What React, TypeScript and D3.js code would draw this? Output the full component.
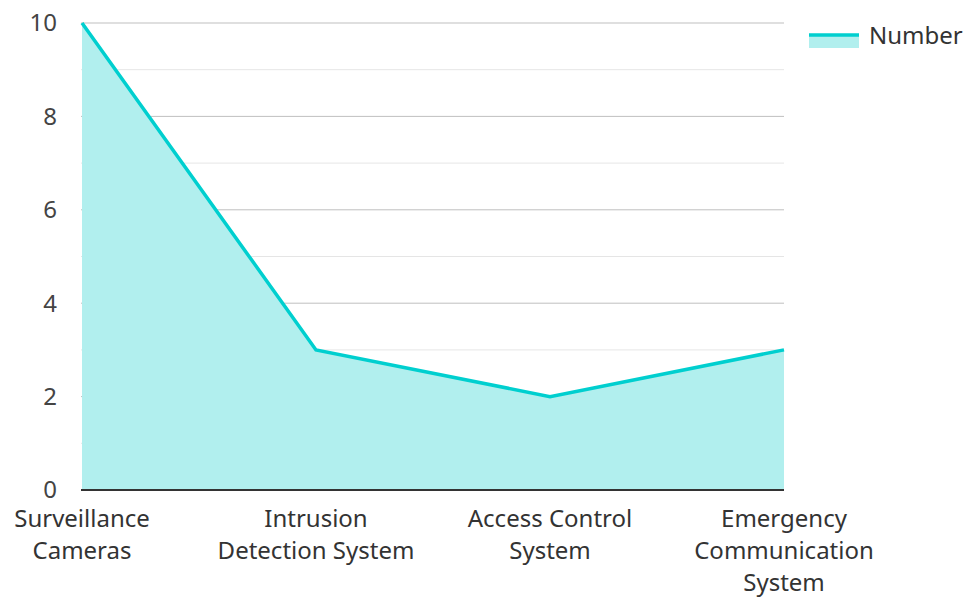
import React, { useEffect, useRef } from 'react';
import * as d3 from 'd3';

const categories = [
  'Surveillance Cameras',
  'Intrusion Detection System',
  'Access Control System',
  'Emergency Communication System',
];
const categoryLines = [
  ['Surveillance', 'Cameras'],
  ['Intrusion', 'Detection System'],
  ['Access Control', 'System'],
  ['Emergency', 'Communication', 'System'],
];
const numberValues = [10, 3, 2, 3];
const seriesName = 'Number';
const yMajorTicks = [0, 2, 4, 6, 8, 10];
const yMinorTicks = [1, 3, 5, 7, 9];

const width = 970;
const height = 597;
const lineColor = '#00cfcf';
const fillColor = '#b1efee';
const font = '"Noto Sans", sans-serif';
const fontSize = 24;

const App: React.FC = () => {
  const ref = useRef<SVGSVGElement | null>(null);

  useEffect(() => {
    if (!ref.current) return;
    const svg = d3.select(ref.current);
    svg.selectAll('*').remove();

    const margin = { top: 23, right: 186, bottom: 107, left: 82 };
    const innerWidth = width - margin.left - margin.right;
    const innerHeight = height - margin.top - margin.bottom;

    const x = d3
      .scalePoint<string>()
      .domain(categories)
      .range([0, innerWidth]);

    const y = d3.scaleLinear().domain([0, 10]).range([innerHeight, 0]);

    const g = svg
      .append('g')
      .attr('transform', `translate(${margin.left},${margin.top})`);

    // minor grid
    g.selectAll('line.minor')
      .data(yMinorTicks)
      .enter()
      .append('line')
      .attr('class', 'minor')
      .attr('x1', -1)
      .attr('x2', innerWidth)
      .attr('y1', d => y(d))
      .attr('y2', d => y(d))
      .attr('stroke', '#000')
      .attr('stroke-opacity', 0.1)
      .attr('stroke-width', 1);

    // major grid
    g.selectAll('line.major')
      .data(yMajorTicks.filter(d => d !== 0))
      .enter()
      .append('line')
      .attr('class', 'major')
      .attr('x1', -1)
      .attr('x2', innerWidth)
      .attr('y1', d => y(d))
      .attr('y2', d => y(d))
      .attr('stroke', '#000')
      .attr('stroke-opacity', 0.25)
      .attr('stroke-width', 1);

    const area = d3
      .area<number>()
      .x((_, i) => x(categories[i]) as number)
      .y0(y(0))
      .y1(d => y(d));

    const line = d3
      .line<number>()
      .x((_, i) => x(categories[i]) as number)
      .y(d => y(d));

    g.append('path')
      .datum(numberValues)
      .attr('fill', fillColor)
      .attr('d', area);

    g.append('path')
      .datum(numberValues)
      .attr('fill', 'none')
      .attr('stroke', lineColor)
      .attr('stroke-width', 3.5)
      .attr('stroke-linejoin', 'miter')
      .attr('d', line);

    // x axis line
    g.append('line')
      .attr('x1', -1)
      .attr('x2', innerWidth)
      .attr('y1', innerHeight)
      .attr('y2', innerHeight)
      .attr('stroke', '#333')
      .attr('stroke-width', 2);

    // y labels
    g.selectAll('text.ylab')
      .data(yMajorTicks)
      .enter()
      .append('text')
      .attr('class', 'ylab')
      .attr('x', -25)
      .attr('y', d => y(d))
      .attr('dy', '0.35em')
      .attr('text-anchor', 'end')
      .attr('font-family', font)
      .attr('font-size', fontSize)
      .attr('fill', '#444')
      .text(d => d);

    // x labels
    const xl = g
      .selectAll('text.xlab')
      .data(categories)
      .enter()
      .append('text')
      .attr('class', 'xlab')
      .attr('x', d => x(d) as number)
      .attr('y', innerHeight + 37)
      .attr('text-anchor', 'middle')
      .attr('font-family', font)
      .attr('font-size', fontSize)
      .attr('fill', '#333');
    xl.each(function (_, i) {
      const t = d3.select(this);
      categoryLines[i].forEach((s, j) => {
        t.append('tspan')
          .attr('x', x(categories[i]) as number)
          .attr('dy', j === 0 ? 0 : 32)
          .text(s);
      });
    });

    // legend
    const lg = svg.append('g').attr('transform', 'translate(809,35)');
    lg.append('rect')
      .attr('x', 0)
      .attr('y', 0)
      .attr('width', 50)
      .attr('height', 13)
      .attr('fill', fillColor);
    lg.append('line')
      .attr('x1', 0)
      .attr('x2', 50)
      .attr('y1', 0)
      .attr('y2', 0)
      .attr('stroke', lineColor)
      .attr('stroke-width', 3.5);
    lg.append('text')
      .attr('x', 60)
      .attr('y', 1)
      .attr('dy', '0.35em')
      .attr('font-family', font)
      .attr('font-size', fontSize)
      .attr('fill', '#333')
      .text(seriesName);
  }, []);

  return (
    <svg
      ref={ref}
      width={width}
      height={height}
      style={{ position: 'absolute', left: 0, top: 0, background: '#fff' }}
    />
  );
};

export default App;
